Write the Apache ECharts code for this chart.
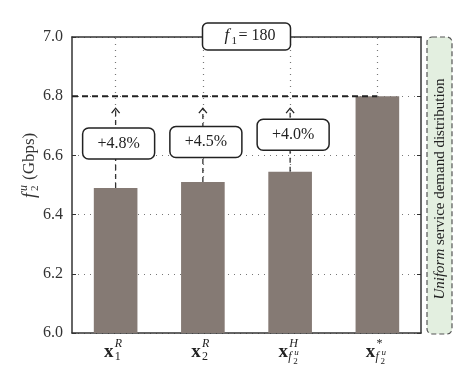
<!DOCTYPE html>
<html><head><meta charset="utf-8">
<script src="https://cdn.jsdelivr.net/npm/echarts@6/dist/echarts.min.js"></script>
<style>html,body{margin:0;padding:0;background:#fff}#c{width:474px;height:387px}</style>
</head><body><div id="c"></div>
<script>
// ---- data ----
const categories = ['x1R', 'x2R', 'xHf2u', 'x*f2u'];
const labelSup = ['R', 'R', 'H', '*'];
const labelSub = ['1', '2', 'f', 'f'];
const throughput = [6.49, 6.51, 6.545, 6.80];
const gainLabels = ['+4.8%', '+4.5%', '+4.0%'];
const yTicks = [6.0, 6.2, 6.4, 6.6, 6.8, 7.0];
const f1Value = '180';
const sideNote = ['Uniform', ' service demand distribution'];

// ---- layout (not data) ----
const boxLevel = [6.64, 6.645, 6.67];
const FONT = '"Liberation Serif", "DejaVu Serif", serif';
const GRID = {left: 72, right: 53, top: 37, bottom: 54};

const chart = echarts.init(document.getElementById('c'), null, {renderer: 'canvas'});
const best = Math.max(...throughput);

chart.setOption({
  animation: false,
  grid: GRID,
  xAxis: [
    {type: 'category', data: categories, axisLine: {lineStyle: {color: '#333', width: 1.5}},
     axisTick: {show: false}, axisLabel: {show: false}, splitLine: {show: false}},
    {type: 'category', data: categories, position: 'top', axisLine: {lineStyle: {color: '#333', width: 1.5}},
     axisTick: {show: false}, axisLabel: {show: false}, splitLine: {show: false}}
  ],
  yAxis: [
    {type: 'value', min: yTicks[0], max: yTicks[yTicks.length - 1], interval: 0.2,
     axisLine: {show: true, lineStyle: {color: '#333', width: 1.5}},
     axisTick: {show: true, inside: true, length: 4, lineStyle: {color: '#333'}},
     axisLabel: {formatter: v => v.toFixed(1), fontFamily: FONT, fontSize: 16, color: '#333', margin: 9},
     splitLine: {show: true, lineStyle: {type: [1, 5], color: '#777', width: 1.2}}},
    {type: 'value', position: 'right', min: yTicks[0], max: yTicks[yTicks.length - 1], interval: 0.2,
     axisLine: {show: true, lineStyle: {color: '#333', width: 1.5}},
     axisTick: {show: true, inside: true, length: 4, lineStyle: {color: '#333'}},
     axisLabel: {show: false}, splitLine: {show: false}}
  ],
  series: [{
    type: 'bar', data: throughput, barWidth: '50%', z: 2,
    itemStyle: {color: '#857a74'},
    markLine: {
      silent: true, symbol: 'none', z: 1, label: {show: false},
      lineStyle: {type: [1, 5], color: '#777', width: 1.2},
      data: categories.map(c => ({xAxis: c}))
    }
  }]
});

function px(i, v) { return chart.convertToPixel({xAxisIndex: 0, yAxisIndex: 0}, [categories[i], v]); }

const W = chart.getWidth(), H = chart.getHeight();
const gl = GRID.left, gr = W - GRID.right, gt = GRID.top, gb = H - GRID.bottom;
const g = [];
const yBest = px(0, best)[1];
const xLast = px(categories.length - 1, best)[0];

// dashed reference line at best value
g.push({type: 'line', z: 10, shape: {x1: gl, y1: yBest, x2: xLast, y2: yBest},
  style: {stroke: '#222', lineWidth: 2, lineDash: [6, 4]}});

// arrows + gain boxes
gainLabels.forEach((txt, i) => {
  const [cx, yTop] = px(i, throughput[i]);
  const tip = yBest + 12;
  g.push({type: 'line', z: 10, shape: {x1: cx, y1: yTop, x2: cx, y2: tip},
    style: {stroke: '#333', lineWidth: 1.3, lineDash: [5, 4]}});
  g.push({type: 'polyline', z: 10, shape: {points: [[cx - 4, tip + 5], [cx, tip], [cx + 4, tip + 5]]},
    style: {stroke: '#222', lineWidth: 1.3, fill: null}});
  const by = px(i, boxLevel[i])[1];
  const bx = cx + 3;
  g.push({type: 'rect', z: 11, shape: {x: bx - 36, y: by - 15.5, width: 72, height: 31, r: 6},
    style: {fill: '#fff', stroke: '#222', lineWidth: 1.5}});
  g.push({type: 'text', z: 12, x: bx, y: by, style: {text: txt, font: '16px ' + FONT,
    fill: '#222', align: 'center', verticalAlign: 'middle'}});
});

// f1 box on top border
const mx = (gl + gr) / 2;
g.push({type: 'rect', z: 11, shape: {x: mx - 44, y: gt - 14, width: 88, height: 27, r: 5},
  style: {fill: '#fff', stroke: '#222', lineWidth: 1.5}});
g.push({type: 'text', z: 12, x: mx - 22, y: gt - 1, style: {text: 'f', font: 'italic 17px ' + FONT, fill: '#222', align: 'left', verticalAlign: 'middle'}});
g.push({type: 'text', z: 12, x: mx - 15, y: gt + 4, style: {text: '1', font: '11px ' + FONT, fill: '#222', align: 'left', verticalAlign: 'middle'}});
g.push({type: 'text', z: 12, x: mx - 8, y: gt - 1, style: {text: '= ' + f1Value, font: '16px ' + FONT, fill: '#222', align: 'left', verticalAlign: 'middle'}});

// x-axis labels
categories.forEach((c, i) => {
  const cx = px(i, yTicks[0])[0];
  const x0 = cx - 7, y0 = gb + 19;
  g.push({type: 'text', x: x0, y: y0, style: {text: 'x', font: 'bold 19px ' + FONT, fill: '#222', align: 'center', verticalAlign: 'middle'}});
  g.push({type: 'text', x: x0 + 6, y: y0 - 8, style: {text: labelSup[i], font: (labelSup[i] === '*' ? '' : 'italic ') + '12px ' + FONT, fill: '#222', align: 'left', verticalAlign: 'middle'}});
  if (labelSub[i] === 'f') {
    g.push({type: 'text', x: x0 + 5, y: y0 + 5, style: {text: 'f', font: 'italic 12px ' + FONT, fill: '#222', align: 'left', verticalAlign: 'middle'}});
    g.push({type: 'text', x: x0 + 11, y: y0 + 1, style: {text: 'u', font: 'italic 9px ' + FONT, fill: '#222', align: 'left', verticalAlign: 'middle'}});
    g.push({type: 'text', x: x0 + 10, y: y0 + 10, style: {text: '2', font: '9px ' + FONT, fill: '#222', align: 'left', verticalAlign: 'middle'}});
  } else {
    g.push({type: 'text', x: x0 + 6, y: y0 + 5, style: {text: labelSub[i], font: '12px ' + FONT, fill: '#222', align: 'left', verticalAlign: 'middle'}});
  }
});

// y-axis name (rotated)
g.push({type: 'group', x: 30, y: 160, rotation: Math.PI / 2, children: [
  {type: 'text', x: -38, y: 0, style: {text: 'f', font: 'italic 18px ' + FONT, fill: '#333', align: 'left', verticalAlign: 'middle'}},
  {type: 'text', x: -31, y: 5, style: {text: '2', font: '11px ' + FONT, fill: '#333', align: 'left', verticalAlign: 'middle'}},
  {type: 'text', x: -31, y: -6, style: {text: 'u', font: 'italic 12px ' + FONT, fill: '#333', align: 'left', verticalAlign: 'middle'}},
  {type: 'text', x: -20, y: 0, style: {text: '(Gbps)', font: '17px ' + FONT, fill: '#333', align: 'left', verticalAlign: 'middle'}}
]});

// side note box
const sx = gr + 6;
g.push({type: 'rect', shape: {x: sx, y: gt, width: 25, height: gb - gt + 1, r: 5},
  style: {fill: '#e3efe0', stroke: '#555', lineWidth: 1.2, lineDash: [5, 3]}});
g.push({type: 'text', x: sx + 13, y: (gt + gb) / 2 + 4, rotation: Math.PI / 2,
  style: {text: '{i|' + sideNote[0] + '}{n|' + sideNote[1] + '}', align: 'center', verticalAlign: 'middle',
    rich: {i: {font: 'italic 15px ' + FONT, fill: '#222'}, n: {font: '15px ' + FONT, fill: '#222'}}}});

chart.setOption({graphic: g});
</script></body></html>
